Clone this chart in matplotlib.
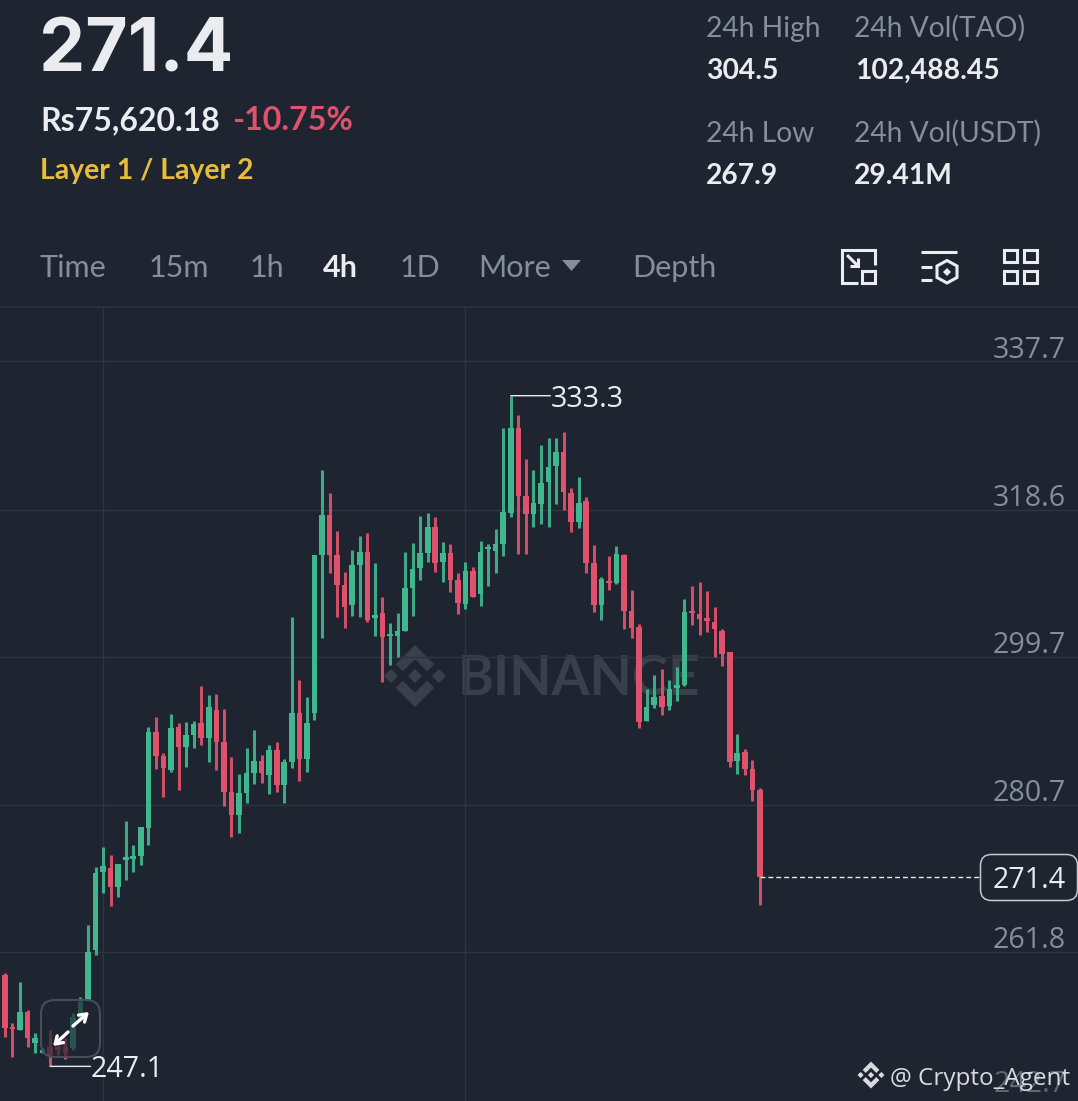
import matplotlib
matplotlib.use("Agg")
import matplotlib.pyplot as plt
from matplotlib.patches import FancyBboxPatch, Polygon, Rectangle

W, H = 1078, 1101
BG = "#1e2430"
GRID = "#2e3440"
GREEN = "#41b78d"
RED = "#e0526b"
GRAY = "#848e9c"
WHITE = "#eaecef"

# candle values (price units)
highs = [261.0,259.1,252.7,257.9,254.3,251.4,249.5,251.8,250.7,250.7,254.0,256.0,265.3,272.7,275.3,274.3,273.1,278.6,275.6,277.9,
         290.7,292.0,287.4,292.4,291.2,291.4,291.5,296.0,294.8,295.0,293.0,286.9,284.7,288.0,290.3,287.1,288.4,288.8,286.6,304.8,
         296.8,294.6,312.8,323.8,320.8,315.9,310.6,313.5,315.3,315.7,311.8,307.4,304.1,305.4,313.2,314.4,317.8,318.2,317.7,314.5,
         314.2,310.5,311.9,311.3,314.6,314.2,316.2,329.2,333.3,330.8,325.2,323.8,326.9,327.9,327.9,328.6,321.4,322.8,320.3,314.1,
         310.0,312.7,314.0,313.0,308.3,303.9,295.6,297.4,298.2,296.8,298.4,307.2,308.8,309.4,308.2,306.1,303.3,300.4,289.8,287.9,
         286.5,282.9]
lows = [254.3,250.9,248.3,251.8,249.6,248.8,248.8,247.1,248.6,248.0,249.2,253.1,255.6,261.4,269.4,267.7,268.9,271.0,272.1,273.0,
        275.6,285.3,281.7,284.9,282.6,285.6,288.0,288.4,286.2,285.2,280.6,276.6,277.1,280.9,283.4,283.5,282.1,282.4,280.9,285.5,
        283.8,284.9,291.6,302.2,310.5,304.8,303.5,305.0,304.8,304.2,302.4,296.5,298.7,299.7,303.1,305.0,309.6,311.9,310.6,309.4,
        308.1,305.3,305.9,307.4,306.3,308.8,310.5,312.7,317.7,313.0,313.0,316.4,316.8,316.4,319.4,318.6,315.8,316.3,310.5,305.5,
        304.5,308.3,309.1,303.3,302.2,290.6,291.5,293.2,292.3,292.9,294.1,296.0,303.8,302.6,302.9,299.7,298.5,285.6,284.7,284.6,
        281.2,267.8]
opens = [258.8,258.8,252.2,251.8,254.1,250.1,248.8,249.6,249.6,249.6,249.5,253.1,255.6,262.1,272.1,272.6,270.2,273.6,273.8,274.2,
         277.7,290.1,287.0,285.2,290.7,288.2,289.7,291.2,289.3,292.9,288.8,282.4,279.4,282.2,284.8,286.3,284.5,287.8,283.3,286.2,
         292.5,286.6,292.5,312.8,318.0,312.8,309.0,306.4,311.6,313.2,304.7,305.4,302.4,302.4,303.1,308.6,311.2,313.1,316.4,311.9,
         313.1,309.6,306.5,310.8,307.8,313.6,313.3,314.2,318.2,329.2,320.4,318.1,319.4,322.2,324.3,326.1,320.8,317.1,319.8,311.8,
         306.4,309.5,309.2,312.8,305.6,303.6,291.5,293.5,294.7,293.4,295.7,296.1,305.6,305.2,304.7,304.2,303.1,300.3,286.4,287.5,
         285.3,282.6]
closes = [255.6,252.0,251.9,254.1,250.7,250.7,249.2,248.6,249.2,248.8,253.5,255.4,261.8,272.0,272.9,270.2,273.1,274.0,274.2,277.9,
          290.1,287.0,285.5,290.6,288.2,289.7,291.1,289.3,293.3,288.8,282.4,279.4,282.2,284.8,286.3,284.8,287.8,283.3,286.2,292.5,
          286.6,291.2,312.8,318.0,312.8,309.0,306.2,311.6,313.2,304.5,305.1,302.3,302.7,303.1,308.6,311.0,313.1,316.4,311.8,313.1,
          309.6,306.7,310.8,307.4,313.2,313.9,314.2,318.4,329.2,320.4,318.1,319.5,322.1,324.2,326.1,320.9,317.1,319.5,311.8,306.4,
          309.7,309.2,313.0,305.6,303.4,291.4,293.3,294.6,293.3,295.6,296.1,305.5,305.4,304.6,304.3,303.3,300.1,286.2,287.4,285.3,
          282.6,271.4]

grid_prices = [337.7, 318.6, 299.7, 280.7, 261.8]
grid_labels = ["337.7", "318.6", "299.7", "280.7", "261.8"]
axis_bottom_label = "242.7"
last_price = 271.4
max_price, max_idx = 333.3, 68
min_price, min_idx = 247.1, 7
v_grid_idx = [14, 62]

tabs = ["Time", "15m", "1h", "4h", "1D", "More", "Depth"]
tab_x = [40, 149, 250, 323, 400, 478, 632]

plt.rcParams["font.family"] = ["Inter", "DejaVu Sans"]
fig = plt.figure(figsize=(W / 100, H / 100), dpi=100, facecolor=BG)

def full_axes(z):
    a = fig.add_axes([0, 0, 1, 1], zorder=z)
    a.set_xlim(0, W)
    a.set_ylim(H, 0)
    a.axis("off")
    return a

back = full_axes(0)
top = full_axes(3)

# chart axes: y from pixel 307 to bottom
PRICE_TOP = 344.7
PRICE_BOT = 242.65
ax = fig.add_axes([0, 0, 1, (H - 307) / H], zorder=1)
ax.patch.set_alpha(0)
ax.set_ylim(PRICE_BOT, PRICE_TOP)
ax.set_xlim(0.345, 143.13)
for s in ax.spines.values():
    s.set_visible(False)
ax.set_yticks(grid_prices)
ax.set_xticks(v_grid_idx)
ax.tick_params(length=0, labelleft=False, labelbottom=False)
ax.grid(True, color=GRID, lw=1.0)
ax.set_axisbelow(True)

# watermark behind the candles
LOGO = [
    [(38.17,53.2),(62.76,28.62),(87.36,53.22),(101.67,38.9),(62.76,0),(23.86,38.89)],
    [(38.17,72.3),(62.76,96.9),(87.36,72.3),(101.67,86.6),(62.76,125.5),(23.86,86.6)],
    [(0,62.76),(14.31,48.45),(28.62,62.76),(14.31,77.07)],
    [(96.9,62.76),(111.2,48.45),(125.5,62.76),(111.2,77.07)],
    [(48.45,62.76),(62.76,48.45),(77.07,62.76),(62.76,77.07)],
]
def logo(a, cx, cy, size, color, z):
    k = size / 125.5
    for pts in LOGO:
        a.add_patch(Polygon([(cx + (px - 62.75) * k, cy + (py - 62.75) * k) for px, py in pts],
                            closed=True, fc=color, ec="none", zorder=z))

WM = "#3a404b"
logo(back, 415, 676, 62, WM, 2)
back.text(458, 695, "BINANCE", fontsize=39.5, fontweight="bold", color=WM, ha="left", va="baseline",
          family=["Lato", "DejaVu Sans"], zorder=2)

# candles
for i in range(len(opens)):
    c = GREEN if closes[i] >= opens[i] else RED
    ax.vlines(i, lows[i], highs[i], color=c, lw=2.2, zorder=3, alpha=0.92)
    ax.bar(i, abs(closes[i] - opens[i]), bottom=min(opens[i], closes[i]), width=0.74, color=c, lw=0, zorder=4)

# axis price labels
LBL = ["Open Sans", "DejaVu Sans"]
FS = 20.6
for p, s in zip(grid_prices, grid_labels):
    ax.annotate(s, xy=(1, p), xycoords=("axes fraction", "data"), xytext=(-8.5, 10.6), textcoords="offset points",
                ha="right", va="center_baseline", fontsize=FS, color=GRAY, family=LBL, zorder=5)
top.text(1067, 1092, axis_bottom_label, ha="right", va="baseline", fontsize=FS, color="#5f6773", family=LBL)

# max / min markers: a level leader and its label
for idx, price, off in [(max_idx, max_price, 28.5), (min_idx, min_price, 29.0)]:
    ax.annotate("", xy=(idx, price), xytext=(off, 0), textcoords="offset points", zorder=6,
                arrowprops=dict(arrowstyle="-", color=WHITE, lw=1, shrinkA=0, shrinkB=0))
    ax.annotate(f"{price}", xy=(idx, price), xytext=(off, 0), textcoords="offset points",
                ha="left", va="center_baseline", fontsize=FS, color=WHITE, family=LBL, zorder=6)

# last price
ax.plot([len(closes) - 1, 130.1], [last_price, last_price], color=WHITE, lw=1, dashes=(3.5, 2.2), zorder=5)
top.add_patch(FancyBboxPatch((980.5, 854.5), 97, 46, boxstyle="round,pad=0,rounding_size=11", fc=BG, ec="#c4c8cd", lw=1.1))
top.text(1066, 877.5, f"{last_price}", ha="right", va="center_baseline", fontsize=FS, color=WHITE, family=LBL)

# expand button
top.add_patch(FancyBboxPatch((41, 1000), 59, 57, boxstyle="round,pad=0,rounding_size=14",
                             fc=(0.118, 0.141, 0.188, 0.68), ec="#474d59", lw=1.5))
for (a0, b0, a1, b1) in [(68, 1032, 53, 1046), (73, 1026, 89, 1012)]:
    top.annotate("", xy=(a1, b1), xytext=(a0, b0),
                 arrowprops=dict(arrowstyle="->,head_length=0.5,head_width=0.33", color="white", lw=2.4, shrinkA=0, shrinkB=0))

# credit
logo(top, 871, 1075, 27, "#d8dade", 5)
top.text(890, 1085, "@ Crypto_Agent", ha="left", va="baseline", fontsize=17.5, color="#d8dade", family=LBL)

# header
T = ["Lato", "DejaVu Sans"]
top.text(39, 72, "271.4", fontsize=52.8, fontweight="bold", color=WHITE, family=["Inter", "DejaVu Sans"])
top.text(40, 130, "Rs75,620.18", fontsize=23, fontweight="bold", color=WHITE, family=T)
top.text(232, 130, "-10.75%", fontsize=23.2, fontweight="bold", color=RED, family=T)
top.text(40, 179, "Layer 1 / Layer 2", fontsize=20.4, fontweight="bold", color="#e9bd3c", family=T)

for x, y, s, c in [(706, 37, "24h High", GRAY), (854, 37, "24h Vol(TAO)", GRAY),
                   (706, 79, "304.5", WHITE), (855, 79, "102,488.45", WHITE),
                   (706, 142, "24h Low", GRAY), (854, 142, "24h Vol(USDT)", GRAY),
                   (706, 184, "267.9", WHITE), (854, 184, "29.41M", WHITE)]:
    top.text(x, y, s, fontsize=20.3, color=c, family=T, fontweight="bold" if c == WHITE else "normal")

for s, x in zip(tabs, tab_x):
    active = s == "4h"
    top.text(x, 277, s, fontsize=22, color=WHITE if active else GRAY, family=T,
             fontweight="bold" if active else "normal")
top.add_patch(Polygon([(562, 260), (581, 260), (571.5, 271)], closed=True, fc=GRAY, ec="none"))
top.plot([0, W], [306.5, 306.5], color="#2a303b", lw=1.4)

# toolbar icons
IC = dict(color=WHITE, lw=2.2, solid_capstyle="butt", solid_joinstyle="miter")
top.plot([858, 841.5, 841.5, 875, 875], [282.5, 282.5, 249.5, 249.5, 265], **IC)
top.add_patch(Rectangle((862, 271), 13, 12, fc="none", ec=WHITE, lw=2.2))
top.plot([847, 858], [255, 266], **IC)
top.plot([850, 858, 858], [266, 266, 258], **IC)
top.plot([921, 957], [252, 252], **IC)
top.plot([921, 932], [267, 267], **IC)
top.plot([921, 932], [280, 280], **IC)
top.add_patch(Polygon([(947, 260.5), (957, 266), (957, 277.5), (947, 283), (937, 277.5), (937, 266)],
                      closed=True, fc="none", ec=WHITE, lw=2.2))
top.add_patch(Polygon([(947, 268), (951, 272), (947, 276), (943, 272)], closed=True, fc=WHITE, ec="none"))
for x0 in (1004, 1024):
    for y0 in (250, 271):
        top.add_patch(Rectangle((x0, y0), 13, 12, fc="none", ec=WHITE, lw=2.2))

fig.savefig("out.png", dpi=100, facecolor=BG)
